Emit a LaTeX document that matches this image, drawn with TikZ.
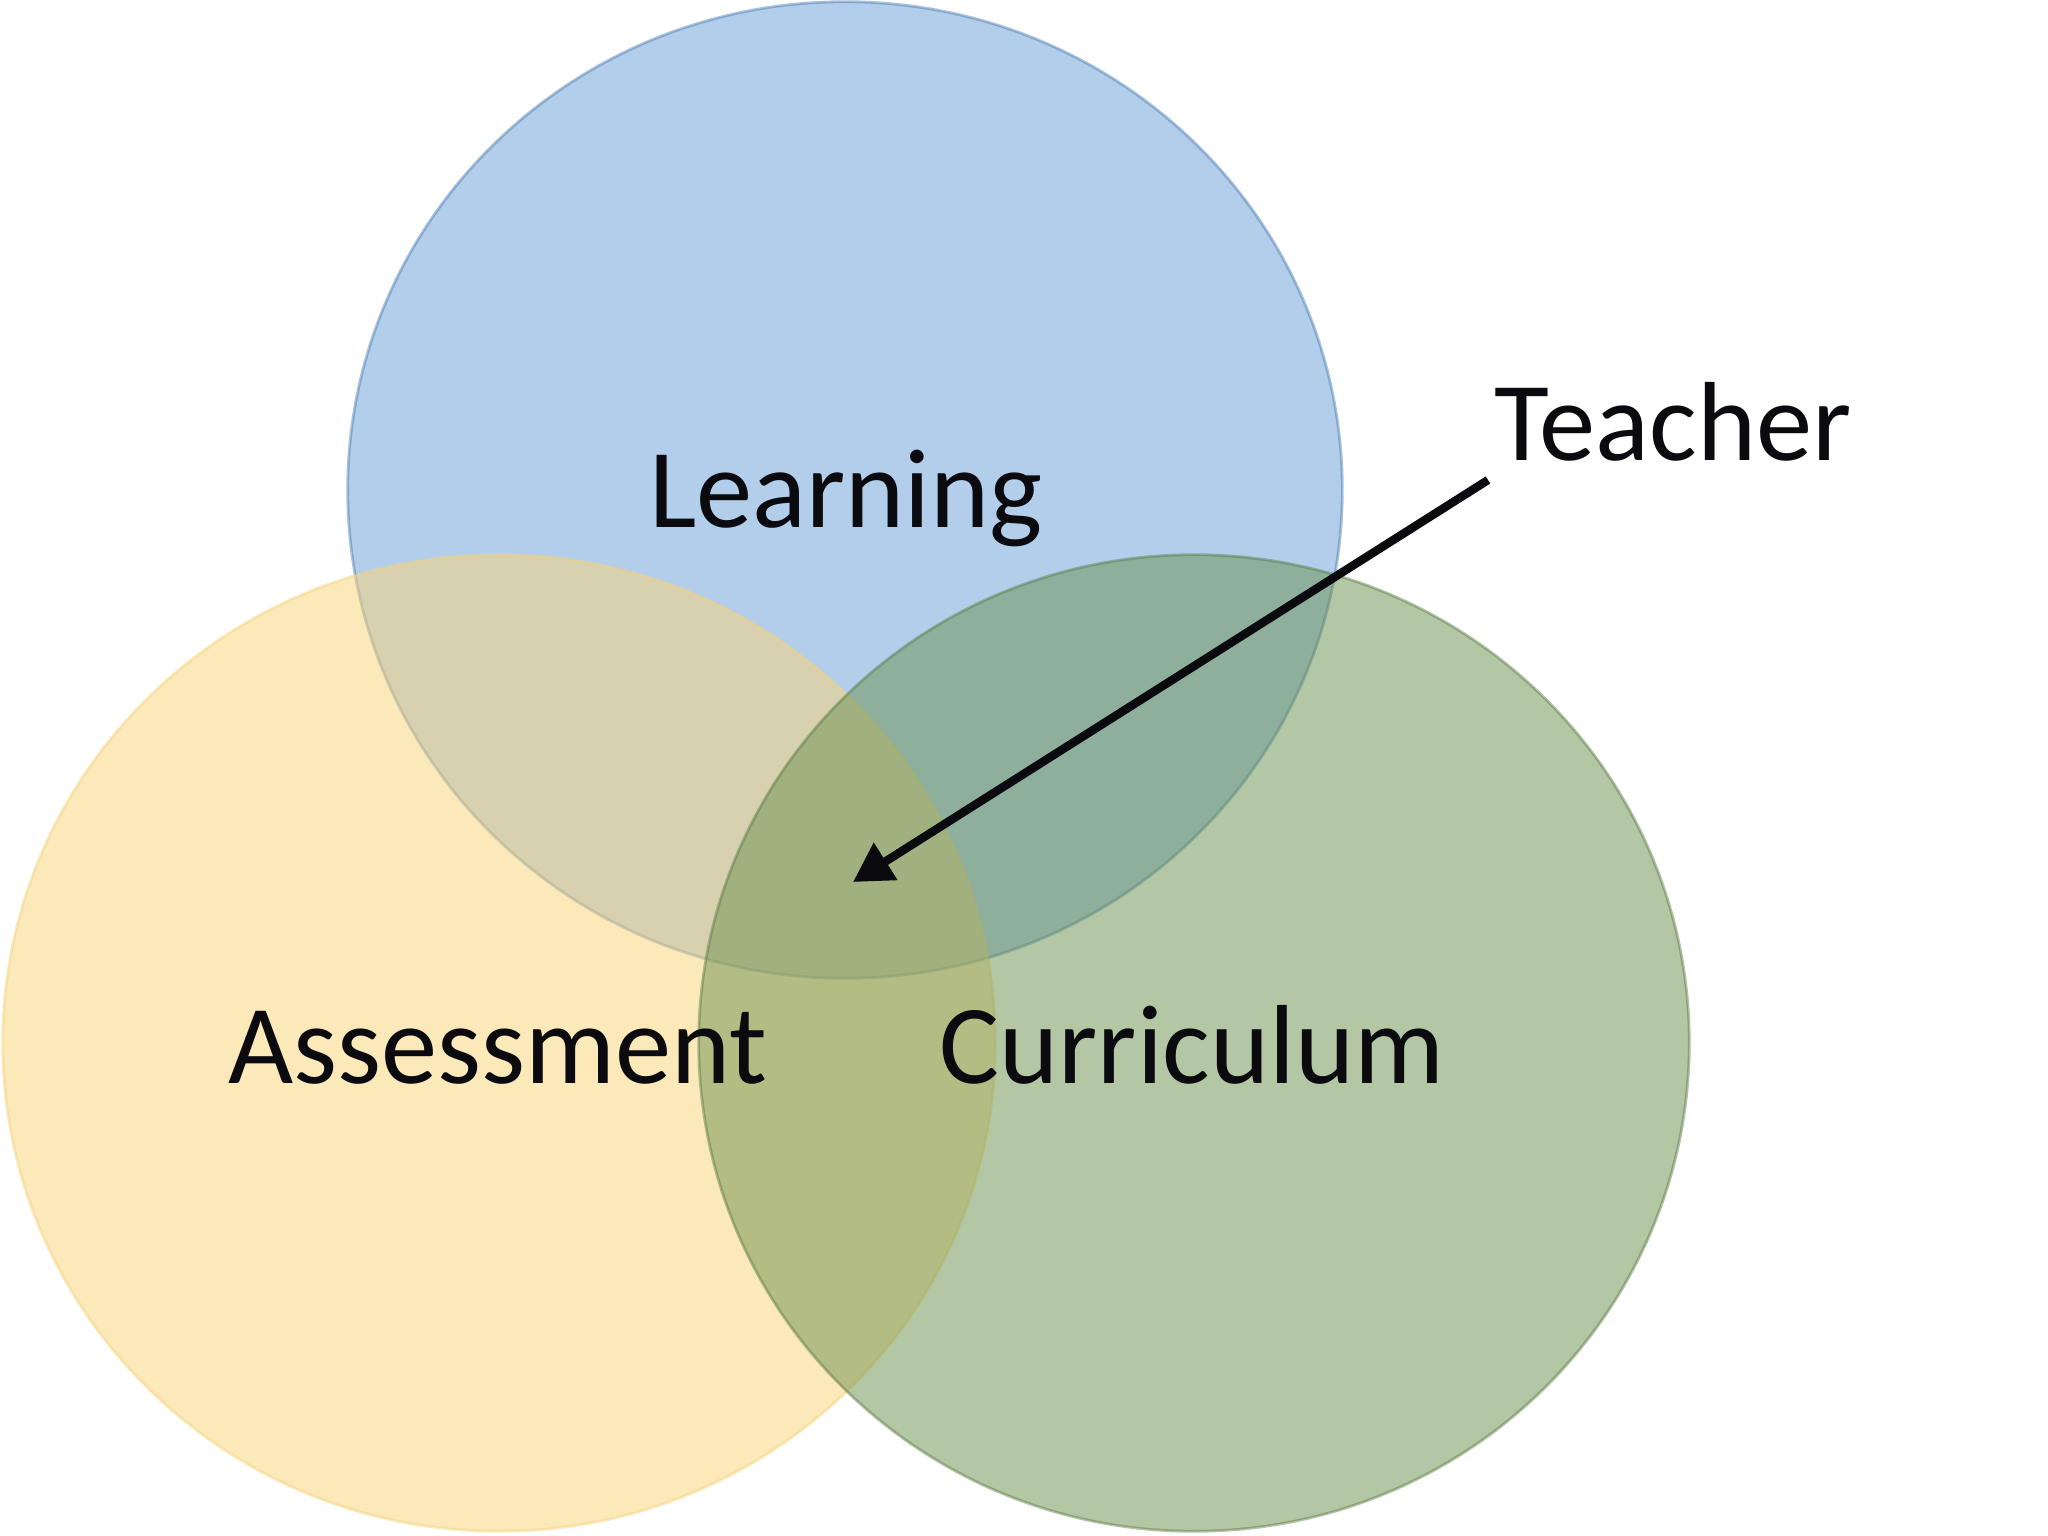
\documentclass[tikz,border=0pt]{standalone}
\usepackage{fontspec}
\setmainfont{Carlito}
\usetikzlibrary{arrows.meta}
\definecolor{cblue}{RGB}{105,159,217}
\definecolor{cyellow}{RGB}{251,213,119}
\definecolor{cgreen}{RGB}{107,145,77}
\definecolor{bblue}{RGB}{70,120,175}
\definecolor{byellow}{RGB}{245,210,120}
\definecolor{bgreen}{RGB}{85,120,65}
\definecolor{ink}{RGB}{10,10,15}
\begin{document}
\begin{tikzpicture}[x=0.01cm,y=-0.01cm,
  setcircle/.style={fill opacity=0.5,draw opacity=0.45,line width=0.8pt},
  lbl/.style={font=\fontsize{32}{38}\selectfont,text=ink,inner sep=0pt,anchor=base},
  pointer/.style={line width=2.4pt,draw=ink,-{Triangle[length=11pt,width=12pt]}}]
\useasboundingbox[fill=white] (0,0) rectangle (2048,1536);
% circles
\draw[setcircle,fill=cblue,draw=bblue] (845,490) ellipse [x radius=4.97cm,y radius=4.88cm];
\draw[setcircle,fill=cyellow,draw=byellow] (499,1043) ellipse [x radius=4.96cm,y radius=4.88cm];
\draw[setcircle,fill=cgreen,draw=bgreen] (1194,1043) ellipse [x radius=4.95cm,y radius=4.88cm];
% labels
\node[lbl] (learning) at (846,527) {Learning};
\node[lbl] (assessment) at (498,1083) {Assessment};
\node[lbl] (curriculum) at (1192,1083) {Curriculum};
\node[lbl] (teacher) at (1673,460) {Teacher};
% arrow
\coordinate (tstart) at (1488,480);
\coordinate (ttip) at (853,882);
\draw[pointer] (tstart) -- (ttip);
\end{tikzpicture}
\end{document}
